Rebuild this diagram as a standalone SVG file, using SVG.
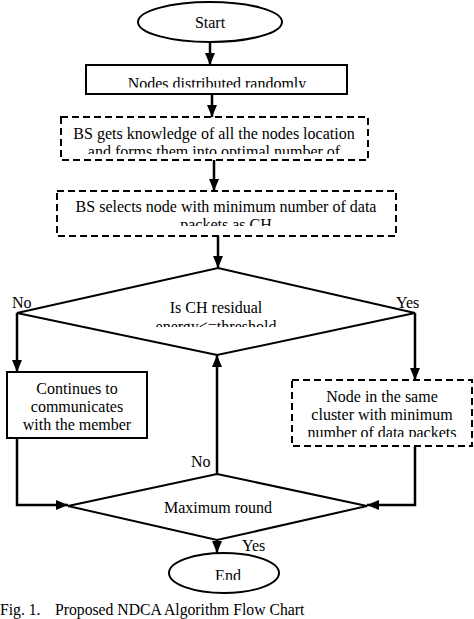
<svg xmlns="http://www.w3.org/2000/svg" width="474" height="619" viewBox="0 0 474 619">
<style>
.s{fill:#fff;stroke:#000;stroke-width:2}
.d{fill:#fff;stroke:#000;stroke-width:2;stroke-dasharray:7 4}
.t{font-family:"Liberation Serif","Times New Roman",serif;font-size:16px;fill:#000;text-anchor:middle}
.l{font-family:"Liberation Serif","Times New Roman",serif;font-size:16px;fill:#000}
.c{fill:none;stroke:#000;stroke-width:2.5}
</style>
<defs>
<marker id="ah" markerUnits="userSpaceOnUse" markerWidth="12" markerHeight="10" refX="12" refY="5" orient="auto">
<path d="M0,0 L12,5 L0,10 z" fill="#000"/>
</marker>
<clipPath id="k1"><rect x="0" y="0" width="474" height="87.5"/></clipPath>
<clipPath id="k2"><rect x="0" y="0" width="474" height="154"/></clipPath>
<clipPath id="k3"><rect x="0" y="0" width="474" height="226"/></clipPath>
<clipPath id="k4"><rect x="0" y="0" width="474" height="327"/></clipPath>
<clipPath id="k5"><rect x="0" y="0" width="474" height="437"/></clipPath>
<clipPath id="k6"><rect x="0" y="0" width="474" height="580"/></clipPath>
</defs>
<rect width="474" height="619" fill="#fff"/>
<g id="connectors">
<path class="c" d="M210,43 L210,65" marker-end="url(#ah)"/>
<path class="c" d="M212,94 L212,117" marker-end="url(#ah)"/>
<path class="c" d="M214,160 L214,191" marker-end="url(#ah)"/>
<path class="c" d="M218,236 L218,268" marker-end="url(#ah)"/>
<path class="c" d="M17,313 L17,372" marker-end="url(#ah)"/>
<path class="c" d="M415,313 L415,380" marker-end="url(#ah)"/>
<path class="c" d="M17,438 L17,505 L68,505" marker-end="url(#ah)"/>
<path class="c" d="M415,446 L415,505 L367,505" marker-end="url(#ah)"/>
<path class="c" d="M217,474 L217,355" marker-end="url(#ah)"/>
<path class="c" d="M217,540 L217,553" marker-end="url(#ah)"/>
<text class="l" x="12" y="308">No</text>
<text class="l" x="396" y="308">Yes</text>
<text class="l" x="191" y="467">No</text>
<text class="l" x="242" y="551">Yes</text>
</g>
<g id="start">
<ellipse class="s" cx="210" cy="22" rx="72" ry="20"/>
<text class="t" x="210" y="28">Start</text>
</g>
<g id="nodes-distributed">
<rect class="s" x="86" y="65" width="261" height="29"/>
<text class="t" x="217" y="89" clip-path="url(#k1)">Nodes distributed randomly</text>
</g>
<g id="bs-knowledge">
<rect class="d" x="61" y="117" width="307" height="43"/>
<text class="t" x="214" y="139">BS gets knowledge of all the nodes location</text>
<text class="t" x="214" y="157" clip-path="url(#k2)">and forms them into optimal number of</text>
</g>
<g id="bs-selects">
<rect class="d" x="57" y="191" width="339" height="45"/>
<text class="t" x="226" y="212">BS selects node with minimum number of data</text>
<text class="t" x="226" y="230" clip-path="url(#k3)">packets as CH</text>
</g>
<g id="decision-energy">
<polygon class="s" points="218,268 415,313 217,355 17,313"/>
<text class="t" x="216" y="313">Is CH residual</text>
<text class="t" x="216" y="332" clip-path="url(#k4)">energy&lt;=threshold</text>
</g>
<g id="continues">
<rect class="s" x="7" y="372" width="140" height="66"/>
<text class="t" x="77" y="394">Continues to</text>
<text class="t" x="77" y="412">communicates</text>
<text class="t" x="77" y="430">with the member</text>
</g>
<g id="node-same-cluster">
<rect class="d" x="292" y="380" width="180" height="66"/>
<text class="t" x="382" y="402">Node in the same</text>
<text class="t" x="382" y="420">cluster with minimum</text>
<text class="t" x="382" y="438" clip-path="url(#k5)">number of data packets</text>
</g>
<g id="decision-round">
<polygon class="s" points="217,474 367,506 217,540 68,506"/>
<text class="t" x="218" y="513">Maximum round</text>
</g>
<g id="end">
<ellipse class="s" cx="224" cy="573" rx="55" ry="20"/>
<text class="t" x="228" y="581" clip-path="url(#k6)">End</text>
</g>
<g id="caption">
<text class="l" x="0" y="615" style="font-size:15.7px">Fig. 1.</text>
<text class="l" x="55" y="615" style="font-size:15.7px">Proposed NDCA Algorithm Flow Chart</text>
</g>
</svg>
